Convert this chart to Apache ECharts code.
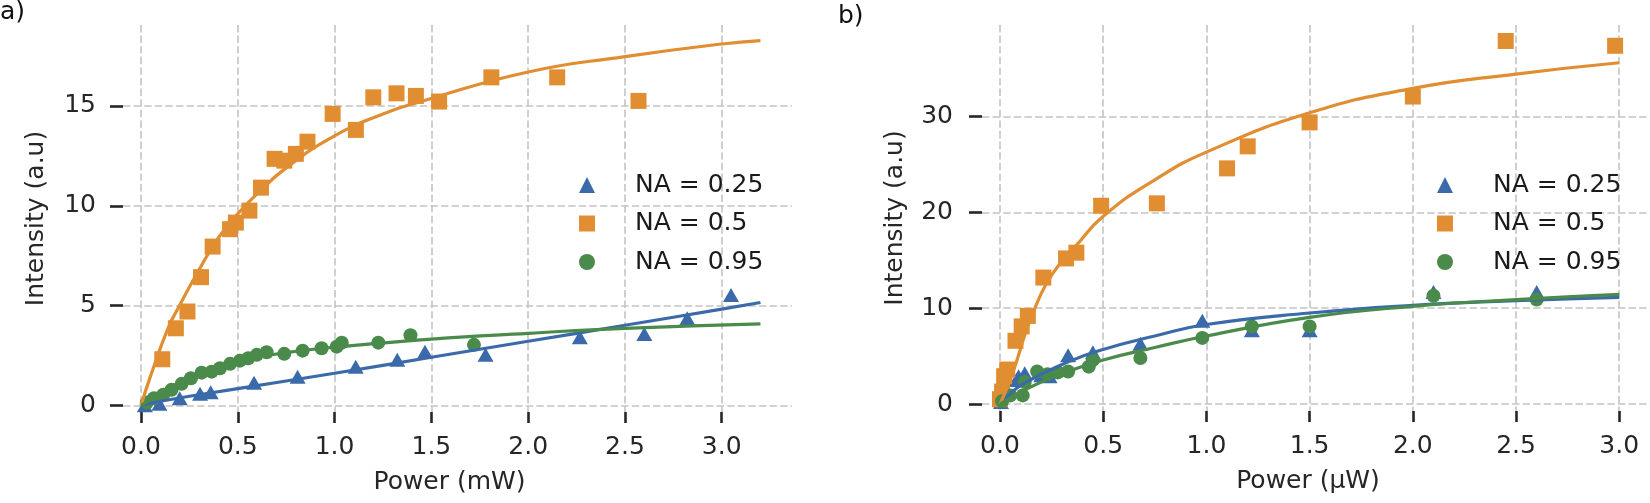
<!DOCTYPE html>
<html><head><meta charset="utf-8">
<script src="https://cdn.jsdelivr.net/npm/echarts@6/dist/echarts.min.js"></script>
<style>html,body{margin:0;padding:0;background:#fff}#c{width:1650px;height:503px}</style>
</head><body><div id="c"></div>
<script>
// ---------- Panel a) : Power (mW) ----------
const aXTicks = [0, 0.5, 1.0, 1.5, 2.0, 2.5, 3.0];
const aYTicks = [0, 5, 10, 15];
const aTri = [[0.02,0.02],[0.095,0.09],[0.20,0.37],[0.305,0.59],[0.36,0.67],[0.584,1.15],[0.809,1.45],[1.109,1.95],[1.324,2.29],[1.467,2.70],[1.78,2.54],[2.267,3.42],[2.60,3.59],[2.822,4.37],[3.048,5.54]];
const aSq = [[0.11,2.32],[0.18,3.87],[0.24,4.71],[0.31,6.43],[0.37,7.96],[0.46,8.83],[0.49,9.16],[0.56,9.76],[0.62,10.91],[0.69,12.35],[0.74,12.26],[0.80,12.6],[0.86,13.21],[0.99,14.6],[1.11,13.8],[1.20,15.43],[1.32,15.63],[1.42,15.5],[1.54,15.22],[1.81,16.43],[2.15,16.43],[2.57,15.25]];
const aCirc = [[0.03,0.15],[0.067,0.37],[0.115,0.54],[0.158,0.79],[0.21,1.09],[0.258,1.37],[0.313,1.65],[0.365,1.70],[0.408,1.87],[0.46,2.09],[0.511,2.25],[0.554,2.37],[0.598,2.54],[0.649,2.67],[0.74,2.59],[0.835,2.75],[0.933,2.87],[1.011,2.95],[1.037,3.15],[1.226,3.15],[1.392,3.52],[1.72,3.04]];
const aFitTri = [[0,0],[0.1,0.22],[0.5,0.85],[1.0,1.62],[1.5,2.42],[2.0,3.22],[2.5,4.02],[3.0,4.83],[3.2,5.16]];
const aFitSq = [[0,0],[0.05,1.5],[0.141,3.9],[0.193,4.9],[0.3,6.8],[0.4,8.4],[0.5,9.6],[0.6,10.6],[0.75,11.9],[1.0,13.5],[1.25,14.6],[1.44,15.2],[2.0,16.7],[2.5,17.47],[3.0,18.1],[3.2,18.27]];
const aFitCirc = [[0,0],[0.1,0.59],[0.25,1.42],[0.5,2.2],[0.75,2.65],[1.0,2.92],[1.5,3.33],[2.0,3.62],[2.5,3.87],[3.2,4.09]];

// ---------- Panel b) : Power (µW) ----------
const bXTicks = [0, 0.5, 1.0, 1.5, 2.0, 2.5, 3.0];
const bYTicks = [0, 10, 20, 30];
const bTri = [[0.005,0.2],[0.03,1.2],[0.08,2.5],[0.09,2.9],[0.12,3.2],[0.20,3.0],[0.24,2.9],[0.33,5.1],[0.45,5.4],[0.68,6.3],[0.98,8.7],[1.22,7.7],[1.50,7.7],[2.10,11.7],[2.60,11.7]];
const bSq = [[0.0,0.5],[0.01,1.3],[0.02,2.9],[0.035,3.6],[0.075,6.6],[0.105,8.1],[0.135,9.2],[0.21,13.2],[0.32,15.2],[0.37,15.8],[0.49,20.7],[0.76,20.95],[1.10,24.6],[1.20,26.9],[1.50,29.4],[2.0,32.1],[2.45,37.9],[2.98,37.4]];
const bCirc = [[0.01,0.3],[0.05,0.9],[0.11,0.9],[0.12,2.3],[0.18,3.4],[0.23,3.1],[0.28,3.3],[0.33,3.4],[0.43,3.9],[0.45,4.6],[0.68,4.8],[0.98,6.9],[1.22,8.1],[1.50,8.1],[2.10,11.3],[2.60,10.9]];
const bFitTri = [[0,0],[0.03,0.7],[0.12,2.2],[0.33,4.4],[0.5,5.7],[0.75,7.1],[1.0,8.3],[1.5,9.5],[2.0,10.3],[2.5,10.8],[3.0,11.14]];
const bFitSq = [[0,0],[0.04,2.0],[0.081,4.5],[0.12,7.2],[0.165,9.8],[0.226,12.6],[0.3,14.9],[0.363,16.4],[0.5,19.6],[0.75,23.4],[1.0,26.3],[1.5,30.4],[2.0,32.95],[2.5,34.45],[3.0,35.63]];
const bFitCirc = [[0,0],[0.05,0.6],[0.17,2.0],[0.33,3.4],[0.5,4.6],[0.75,5.9],[1.0,7.1],[1.5,9.05],[2.0,10.2],[2.5,10.9],[3.0,11.45]];

const seriesNames = ['NA = 0.25', 'NA = 0.5', 'NA = 0.95'];
const colors = ['#3a6aa9', '#e08e31', '#4a8a4a'];

const FONT = 'DejaVu Sans';
const TXT = '#262626';
const splitLineStyle = {show: true, lineStyle: {color: '#c4c4c4', width: 1.6, type: [7.4, 3.2]}};

function xAx(gi, min, max, ticks, name) {
  return {
    type: 'value', gridIndex: gi, min: min, max: max,
    name: name, nameLocation: 'middle', nameGap: 58,
    nameTextStyle: {fontFamily: FONT, fontSize: 25, color: TXT, padding: [0, 16, 0, 0]},
    axisLine: {show: false, onZero: false},
    axisTick: {show: true, customValues: ticks, length: 11, lineStyle: {color: TXT, width: 2.6}},
    axisLabel: {customValues: ticks, formatter: v => v.toFixed(1), margin: 23, fontFamily: FONT, fontSize: 25, color: TXT},
    splitLine: splitLineStyle
  };
}
function yAx(gi, min, max, ticks, margin) {
  return {
    type: 'value', gridIndex: gi, min: min, max: max,
    name: 'Intensity (a.u)', nameLocation: 'middle', nameGap: 74,
    nameTextStyle: {fontFamily: FONT, fontSize: 25, color: TXT},
    axisLine: {show: false, onZero: false},
    axisTick: {show: true, customValues: ticks, length: 13, lineStyle: {color: TXT, width: 2.6}},
    axisLabel: {customValues: ticks, formatter: v => String(v), margin: margin, fontFamily: FONT, fontSize: 25, color: TXT},
    splitLine: splitLineStyle
  };
}
function scatter(name, data, gi, symbol, size, color) {
  return {type: 'scatter', name: name, data: data, xAxisIndex: gi, yAxisIndex: gi,
    symbol: symbol, symbolSize: size, itemStyle: {color: color, opacity: 1}, z: 2};
}
function fit(data, gi, color) {
  return {type: 'line', data: data, xAxisIndex: gi, yAxisIndex: gi, showSymbol: false, symbol: 'none',
    smooth: 0.5, lineStyle: {width: 3.2, color: color}, z: 3, silent: true};
}
function legend(left) {
  return {
    orient: 'vertical', left: left, top: 172, padding: 0, itemWidth: 16, itemHeight: 16, itemGap: 12.5,
    selectedMode: false,
    textStyle: {fontFamily: FONT, fontSize: 25, color: '#1a1a1a', lineHeight: 26, padding: [0, 0, 0, 35]},
    data: [
      {name: seriesNames[0], icon: 'triangle'},
      {name: seriesNames[1], icon: 'rect'},
      {name: seriesNames[2], icon: 'circle'}
    ]
  };
}

const chart = echarts.init(document.getElementById('c'));
chart.setOption({
  animation: false,
  backgroundColor: '#ffffff',
  textStyle: {fontFamily: FONT},
  title: [
    {text: 'a)', left: 0, top: 0, padding: 0, textStyle: {fontFamily: FONT, fontSize: 25, fontWeight: 'normal', color: '#111'}},
    {text: 'b)', left: 838, top: 4, padding: 0, textStyle: {fontFamily: FONT, fontSize: 25, fontWeight: 'normal', color: '#111'}}
  ],
  legend: [legend(579), legend(1437)],
  grid: [
    {left: 123, top: 25, width: 669, height: 387},
    {left: 982, top: 25, width: 668, height: 386}
  ],
  xAxis: [xAx(0, -0.093, 3.363, aXTicks, 'Power (mW)'), xAx(1, -0.0872, 3.149, bXTicks, 'Power (µW)')],
  yAxis: [yAx(0, -0.32, 19.05, aYTicks, 27), yAx(1, -0.73, 39.57, bYTicks, 29)],
  series: [
    scatter(seriesNames[0], aTri, 0, 'triangle', [16, 14], colors[0]),
    scatter(seriesNames[1], aSq, 0, 'rect', 16, colors[1]),
    scatter(seriesNames[2], aCirc, 0, 'circle', 14, colors[2]),
    fit(aFitTri, 0, colors[0]),
    fit(aFitSq, 0, colors[1]),
    fit(aFitCirc, 0, colors[2]),
    scatter(seriesNames[0], bTri, 1, 'triangle', [16, 14], colors[0]),
    scatter(seriesNames[1], bSq, 1, 'rect', 16, colors[1]),
    scatter(seriesNames[2], bCirc, 1, 'circle', 14, colors[2]),
    fit(bFitTri, 1, colors[0]),
    fit(bFitSq, 1, colors[1]),
    fit(bFitCirc, 1, colors[2])
  ]
});
</script>
</body></html>
